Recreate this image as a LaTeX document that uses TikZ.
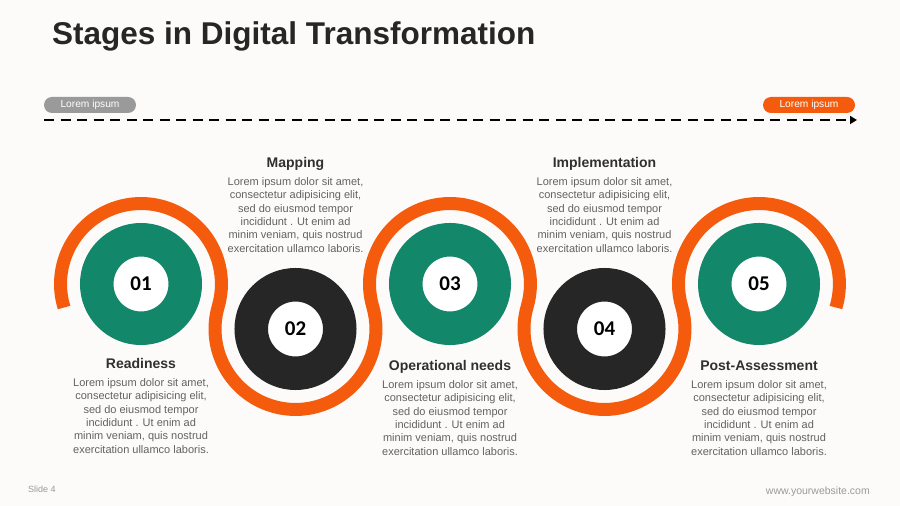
\documentclass[tikz,border=0pt]{standalone}
\usepackage{fontspec}
\setmainfont{Liberation Sans}
\newfontfamily\numfont{Carlito}
\usetikzlibrary{positioning,calc,arrows.meta}

\definecolor{ringgreen}{HTML}{13876A}
\definecolor{ringdark}{HTML}{262626}
\definecolor{pathorange}{HTML}{F55B0C}
\definecolor{pillgray}{HTML}{9A9A9A}
\definecolor{bodygray}{HTML}{626262}
\definecolor{titlegray}{HTML}{303030}
\definecolor{bgcolor}{HTML}{FCFBFA}

\tikzset{
  ring/.style={circle, line width=33.5, minimum size=88.5, inner sep=0, fill=white,
    font=\numfont\bfseries\fontsize{21}{24}\selectfont},
  orangepath/.style={draw=pathorange, line width=13},
  stagetitle/.style={anchor=base, inner sep=0, text height=10, text depth=3,
    text=titlegray, font=\bfseries\fontsize{14}{16}\selectfont},
  stagebody/.style={inner sep=0, align=center, text=bodygray,
    font=\fontsize{11}{13.4}\selectfont},
  pill/.style={rounded corners=8, minimum width=92, minimum height=16, inner sep=0,
    text=white, font=\fontsize{10.2}{11}\selectfont},
  timeline/.style={line width=2.4, dash pattern=on 10 off 6.5, -{Triangle[length=7,width=8]}},
  footer/.style={inner sep=0, text=pillgray, font=\fontsize{9}{10}\selectfont}
}

\newcommand{\loremtext}{Lorem ipsum dolor sit amet,\\ consectetur adipisicing elit,\\
  sed do eiusmod tempor\\ incididunt . Ut enim ad\\ minim veniam, quis nostrud\\
  exercitation ullamco laboris.}

\begin{document}
\begin{tikzpicture}[x=1pt,y=1pt]
  \useasboundingbox (0,0) rectangle (900,506);
  \fill[bgcolor] (0,0) rectangle (900,506);

  % heading
  \node[anchor=base west, inner sep=0, text=ringdark, font=\bfseries\fontsize{31.5}{34}\selectfont]
    (title) at (52,461) {Stages in Digital Transformation};

  % timeline
  \node[pill, fill=pillgray] (start) at (90,401) {Lorem ipsum};
  \node[pill, fill=pathorange] (finish) at (809,401) {Lorem ipsum};
  \coordinate (lineL) at (44,386);
  \coordinate (lineR) at (857,386);
  \draw[timeline] (lineL) -- (lineR);

  % rings
  \node[ring, draw=ringgreen] (s1) at (141,222) {01};
  \node[ring, draw=ringdark] (s2) at (295.5,177) {02};
  \node[ring, draw=ringgreen] (s3) at (450,222) {03};
  \node[ring, draw=ringdark] (s4) at (604.5,177) {04};
  \node[ring, draw=ringgreen] (s5) at (759,222) {05};

  % winding path
  \draw[orangepath] ($(s1)+(197:80.46)$)
    arc[start angle=197, end angle=-16.24, radius=80.46]
    arc[start angle=163.76, end angle=376.24, radius=80.46]
    arc[start angle=196.24, end angle=-16.24, radius=80.46]
    arc[start angle=163.76, end angle=376.24, radius=80.46]
    arc[start angle=196.24, end angle=-17, radius=80.46];

  % stage texts
  \node[stagetitle] (t1) at (141,137) {Readiness};
  \node[stagebody, below=6 of t1] (b1) {\loremtext};
  \node[stagetitle] (t2) at (295.5,338) {Mapping};
  \node[stagebody, below=6 of t2] (b2) {\loremtext};
  \node[stagetitle] (t3) at (450,135) {Operational needs};
  \node[stagebody, below=6 of t3] (b3) {\loremtext};
  \node[stagetitle] (t4) at (604.5,338) {Implementation};
  \node[stagebody, below=6 of t4] (b4) {\loremtext};
  \node[stagetitle] (t5) at (759,135) {Post-Assessment};
  \node[stagebody, below=6 of t5] (b5) {\loremtext};

  % footer
  \node[footer, anchor=base west] (slide) at (28,13) {Slide 4};
  \node[footer, anchor=base east, font=\fontsize{10.5}{12}\selectfont] (web) at (870,11) {www.yourwebsite.com};
\end{tikzpicture}
\end{document}
